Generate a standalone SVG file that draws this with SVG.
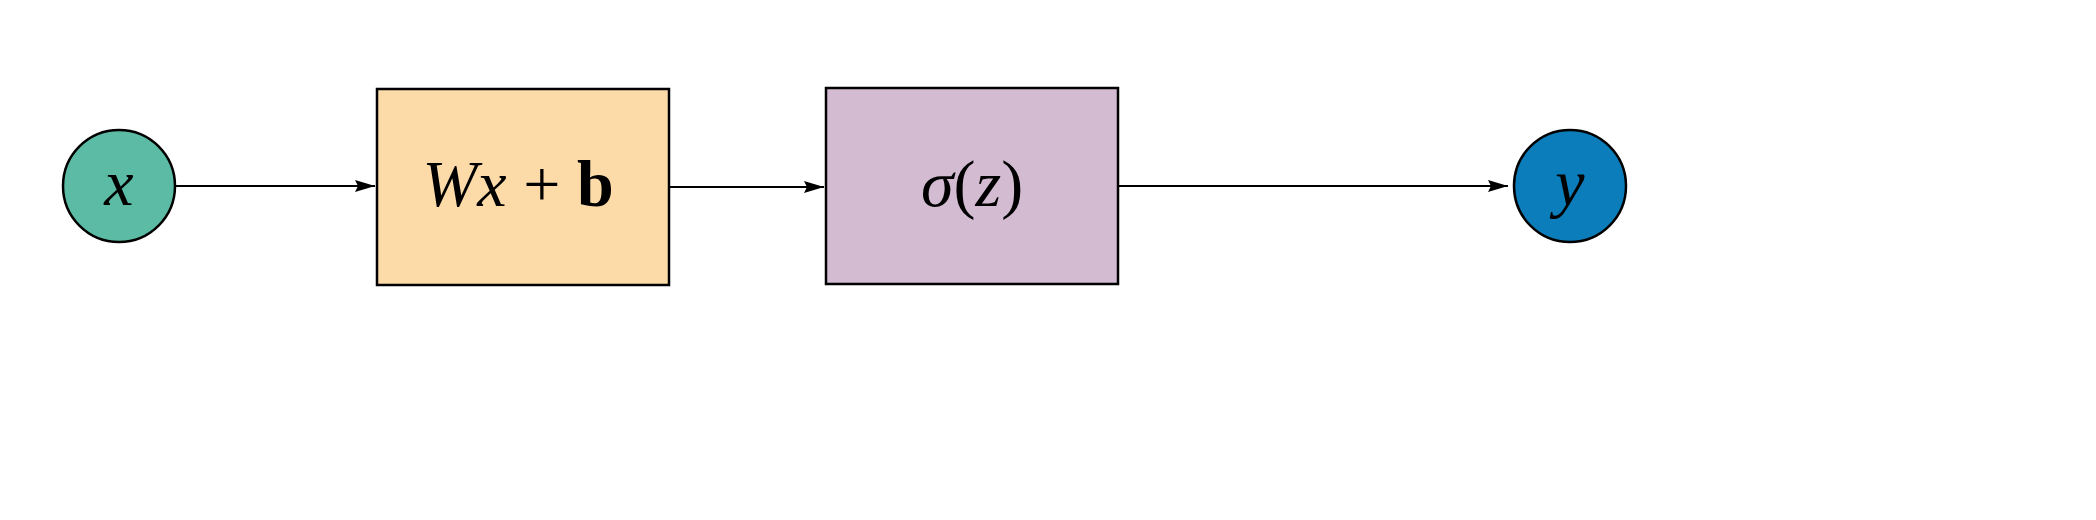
<svg xmlns="http://www.w3.org/2000/svg" width="2096" height="520" viewBox="0 0 2096 520">
<style>
.n{stroke:#000;stroke-width:2.5}
.t{font-family:"Liberation Serif",serif;font-size:66px;font-style:italic;fill:#000}
.c{stroke:#000;stroke-width:2;fill:none}
</style>
<defs><marker id="a" markerWidth="20" markerHeight="12" refX="20" refY="6" orient="auto" markerUnits="userSpaceOnUse"><path d="M0,0 L20,6 L0,12 L3,6 Z" fill="#000"/></marker></defs>
<rect width="2096" height="520" fill="#fff"/>
<g id="connectors">
<line class="c" x1="176" y1="186" x2="375" y2="186" marker-end="url(#a)"/>
<line class="c" x1="670" y1="187" x2="824" y2="187" marker-end="url(#a)"/>
<line class="c" x1="1118" y1="186" x2="1508" y2="186" marker-end="url(#a)"/>
</g>
<g id="x"><circle class="n" cx="119" cy="186" r="56" fill="#5BBBA5"/><text class="t" x="119" y="205" text-anchor="middle">x</text></g>
<g id="linear"><rect class="n" x="377" y="89" width="292" height="196" fill="#FDDBA8"/><text class="t" x="518" y="206" text-anchor="middle">Wx<tspan font-style="normal"> + </tspan><tspan font-style="normal" font-weight="bold">b</tspan></text></g>
<g id="sigma"><rect class="n" x="826" y="88" width="292" height="196" fill="#D3BBD1"/><text class="t" x="972" y="206" text-anchor="middle">σ<tspan font-style="normal">(</tspan>z<tspan font-style="normal">)</tspan></text></g>
<g id="y"><circle class="n" cx="1570" cy="186" r="56" fill="#0B7DBA"/><text class="t" x="1570" y="205" text-anchor="middle">y</text></g>
</svg>
